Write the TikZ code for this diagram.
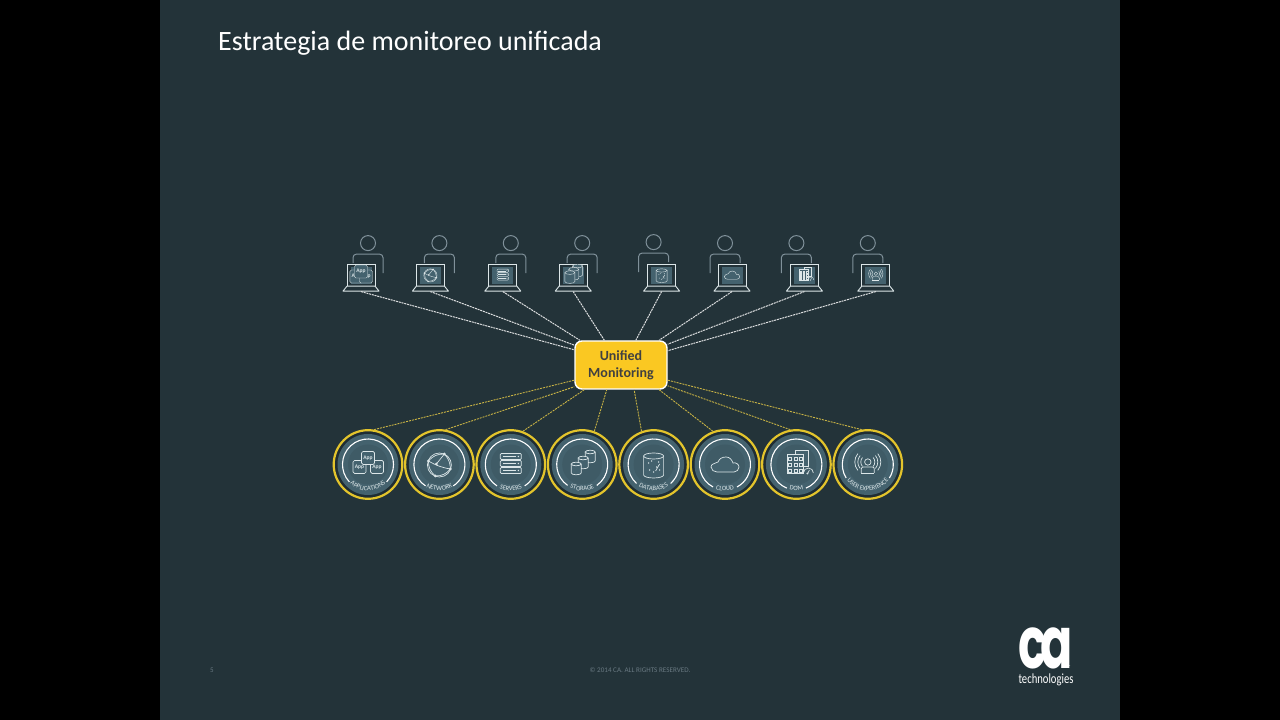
\documentclass[tikz,border=0pt]{standalone}
\usepackage{fontspec}
\setmainfont{Carlito}
\newfontfamily\logofont{Poppins}
\usetikzlibrary{positioning}
\usetikzlibrary{decorations.text}
\definecolor{slidebg}{HTML}{233339}
\definecolor{discbg}{HTML}{44626E}
\definecolor{discin}{HTML}{3F5B66}
\definecolor{ringbg}{HTML}{1F2D33}
\definecolor{hubfill}{HTML}{FAC822}
\definecolor{ringcol}{HTML}{E3C42C}
\definecolor{dashcol}{HTML}{C9B445}
\definecolor{grayline}{HTML}{80919A}
\definecolor{iconcol}{HTML}{DCE6E8}
\tikzset{
  icon/.style ={draw=iconcol, fill=discbg},
  appbox/.pic ={\draw [icon, rounded corners=1.5] (-6.5,-6.5) rectangle (6.5,6.5) ;
    \node [text=iconcol, font=\fontsize{5.5}{6}\selectfont\bfseries, transform shape, inner sep=0] {App} ;},
  appsicon/.pic ={\pic at (-8.5,-2) {appbox} ; \pic at (9,-2) {appbox} ; \pic at (0,7) {appbox} ;},
  neticon/.pic ={\draw [icon] (0,0) circle (12) ;
    \draw [draw=iconcol] (-11,4) to[bend left=25] (5,11) (-11,4) to[bend right=25] (-4,-11)
      (-11,4) to[bend right=10] (11,-4) (5,11) to[bend left=20] (11,-4) (-4,-11) to[bend right=25] (11,-4) (-3,1) -- (5,11) ;
    \foreach \p in {(-11,4),(5,11),(11,-4),(-4,-11),(-3,1)} \fill [iconcol] \p circle (1.5) ;},
  srvicon/.pic ={\foreach \y in {8.5,1.5,-5.5} {
      \draw [icon, rounded corners=1] (-10.5,\y-3) rectangle (10.5,\y+3) ;
      \draw [draw=iconcol] (-8,\y) -- (5,\y) ;
      \fill [iconcol] (7.5,\y) circle (.8) ;}},
  can/.pic ={\draw [icon] (-5,5) -- (-5,-4) arc[start angle=180, end angle=360, x radius=5, y radius=1.8] -- (5,5) ;
    \draw [icon] (0,5) circle [x radius=5, y radius=1.8] ;},
  storicon/.pic ={\pic at (8,8) {can} ; \pic at (1,2) {can} ; \pic at (-6,-4) {can} ;},
  dbicon/.pic ={\draw [icon] (-10,9) -- (-10,-10) arc[start angle=180, end angle=360, x radius=10, y radius=3] -- (10,9) ;
    \draw [icon] (0,9) circle [x radius=10, y radius=3] ;
    \foreach \p in {(-5,2),(-2,4),(5,3),(3,-2),(-4,-5),(0,-7),(6,-5)} \fill [iconcol] \p circle (.8) ;
    \draw [draw=iconcol] (2,-6) -- (6,1) ;},
  cloudicon/.pic ={\draw [icon] (-8,-7) to[out=180,in=270] (-14,-2) to[out=90,in=210] (-7,3)
      to[out=70,in=180] (1,8) to[out=0,in=110] (8,2) to[out=20,in=90] (14,-2) to[out=270,in=0] (9,-7) -- cycle ;},
  domicon/.pic ={\draw [icon] (-1,-1) rectangle (12,15) ;
    \draw [icon] (-9,-8) rectangle (7,11) ;
    \foreach \x in {-6.5,-1,4.5} \foreach \y in {-5.5,0,6}
      \draw [draw=iconcol] (\x-1.5,\y-1.5) rectangle (\x+1.5,\y+1.5) ;
    \draw [draw=iconcol] (7,-8) arc[start angle=180, end angle=0, radius=5] ;
    \draw [draw=iconcol] (11,-9) -- (13,-5) ;
    \fill [iconcol] (11,-8.5) circle (1) ;},
  uxicon/.pic ={\draw [draw=iconcol] (0,3) circle (3.2) ;
    \draw [draw=iconcol, rounded corners=2] (-6.5,-8) |- (6.5,-2) -- (6.5,-8) ;
    \draw [draw=iconcol] (-6.5,-8) -- (6.5,-8) ;
    \foreach \r in {7,10,13} {
      \draw [draw=iconcol] (0,3)+(140:\r) arc[start angle=140, end angle=220, radius=\r] ;
      \draw [draw=iconcol] (0,3)+(40:\r) arc[start angle=40, end angle=-40, radius=\r] ;}},
  shoulders/.pic ={\draw [draw=grayline, line width=1, rounded corners=3.5] (-15,-20) |- (15,-11) -- (15,-30) ;},
  laptop/.pic ={\draw [draw=iconcol, fill=slidebg, line width=.9] (-14,-8) rectangle (14,14) ;
    \fill [discbg] (-10.5,-6) rectangle (10.5,11.5) ;
    \draw [draw=iconcol, fill=slidebg, line width=.9, line join=round] (-14,-8) -- (-18,-13) -- (18,-13) -- (14,-8) -- cycle ;
    \pic [scale=.55, line width=.4] at (0,2.7) {#1} ;},
}
\newcommand{\badge}[4]{
  \begin{scope}[shift={(#1)}]
    \fill [discbg] (0,0) circle (30.5) ;
    \fill [discin] (0,0) circle (20) ;
    \draw [white, line width=1.1] (270-#2:25.5) arc[start angle=270-#2, end angle=-90+#2, radius=25.5] ;
    \path [decorate, decoration={text along path, text color=iconcol, text align=center,
      text={|\fontsize{6.6}{7}\selectfont|#3}}] (190:26.2) arc[start angle=190, end angle=350, radius=26.2] ;
    \pic [line width=.7] at (0,-.5) {#4} ;
  \end{scope}
}

\begin{document}
\begin{tikzpicture}[x=1pt, y=1pt,
      ringnode/.style ={circle, draw=ringcol, line width=2.2, fill=ringbg, minimum size=68.6pt, inner sep=0},
      who/.style ={circle, draw=grayline, line width=1, minimum size=15pt, inner sep=0},
      lap/.style ={minimum width=36pt, minimum height=27pt, inner sep=0, outer sep=0},
      hubnode/.style ={rectangle, draw=white, line width=1.4, fill=hubfill, rounded corners=7, minimum width=92pt,
        minimum height=48pt, align=center, text=black!75, font=\fontsize{14}{17}\selectfont\bfseries},
      wline/.style ={draw=white!85!slidebg, line width=1, dash pattern=on 2pt off .8pt},
      yline/.style ={draw=dashcol, line width=.9, dash pattern=on 2pt off 1pt},
      node distance=.6pt
    ]
    \useasboundingbox (0,0) rectangle (1280,720) ;
    \fill [black] (0,0) rectangle (1280,720) ;
    \fill [slidebg] (160,0) rectangle (1120,720) ;

    \node [anchor=base west, text=white, inner sep=0, font=\fontsize{28}{32}\selectfont] (title) at (218,669.5) {Estrategia de monitoreo unificada} ;
    \node [hubnode] (hub) at (621,355) {Unified\\Monitoring} ;

    % lower row
    \node [ringnode] (apps) at (368,255.5) {} ;
    \node [ringnode, right=of apps] (net) {} ;
    \node [ringnode, right=of net] (srv) {} ;
    \node [ringnode, right=of srv] (stor) {} ;
    \node [ringnode, right=of stor] (db) {} ;
    \node [ringnode, right=of db] (cld) {} ;
    \node [ringnode, right=of cld] (dom) {} ;
    \node [ringnode, right=of dom] (ux) {} ;

    \badge{apps}{47}{APPLICATIONS}{appsicon}
    \badge{net}{33}{NETWORK}{neticon}
    \badge{srv}{33}{SERVERS}{srvicon}
    \badge{stor}{35}{STORAGE}{storicon}
    \badge{db}{42}{DATABASES}{dbicon}
    \badge{cld}{28}{CLOUD}{cloudicon}
    \badge{dom}{22}{DOM}{domicon}
    \badge{ux}{58}{USER EXPERIENCE}{uxicon}

    % upper row
    \node [who, above=178pt of apps] (who1) {} ;
    \node [who, above=178pt of net] (who2) {} ;
    \node [who, above=178pt of srv] (who3) {} ;
    \node [who, above=178pt of stor] (who4) {} ;
    \node [who, above=179pt of db] (who5) {} ;
    \node [who, above=178pt of cld] (who6) {} ;
    \node [who, above=178pt of dom] (who7) {} ;
    \node [who, above=178pt of ux] (who8) {} ;
    \foreach \n in {1,2,3,4} \pic at (who\n) {shoulders} ;
    \foreach \n in {5,6,7,8} \pic [xscale=-1] at (who\n) {shoulders} ;

    \node [lap, below=13.5pt of who1, xshift=-7pt] (lap1) {} ;
    \node [lap, below=13.5pt of who2, xshift=-9pt] (lap2) {} ;
    \node [lap, below=13.5pt of who3, xshift=-8pt] (lap3) {} ;
    \node [lap, below=13.5pt of who4, xshift=-9pt] (lap4) {} ;
    \node [lap, below=14.5pt of who5, xshift=8pt] (lap5) {} ;
    \node [lap, below=13.5pt of who6, xshift=7pt] (lap6) {} ;
    \node [lap, below=13.5pt of who7, xshift=8pt] (lap7) {} ;
    \node [lap, below=13.5pt of who8, xshift=8pt] (lap8) {} ;
    \pic at (lap1) {laptop=appsicon} ;
    \pic at (lap2) {laptop=neticon} ;
    \pic at (lap3) {laptop=srvicon} ;
    \pic at (lap4) {laptop=storicon} ;
    \pic at (lap5) {laptop=dbicon} ;
    \pic at (lap6) {laptop=cloudicon} ;
    \pic at (lap7) {laptop=domicon} ;
    \pic at (lap8) {laptop=uxicon} ;

    \draw [wline] (lap1.south) -- (hub.162) ;
    \draw [wline] (lap2.south) -- (hub.157) ;
    \draw [wline] (lap3.south) -- (hub.149) ;
    \draw [wline] (lap4.south) -- (hub.124) ;
    \draw [wline] (lap5.south) -- (hub.59) ;
    \draw [wline] (lap6.south) -- (hub.33) ;
    \draw [wline] (lap7.south) -- (hub.24) ;
    \draw [wline] (lap8.south) -- (hub.17) ;

    \draw [yline] (apps.80) -- (hub.198) ;
    \draw [yline] (net.80) -- (hub.205) ;
    \draw [yline] (srv.70) -- (hub.214) ;
    \draw [yline] (stor.70) -- (hub.240) ;
    \draw [yline] (db.110) -- (hub.298) ;
    \draw [yline] (cld.110) -- (hub.327) ;
    \draw [yline] (dom.100) -- (hub.336) ;
    \draw [yline] (ux.100) -- (hub.342) ;

    % footer
    \node [text=grayline!75!slidebg, font=\fontsize{7}{8}\selectfont, inner sep=0] (page) at (212,50) {5} ;
    \node [text=grayline!75!slidebg, font=\fontsize{7.1}{8}\selectfont, inner sep=0] (copy) at (640,50) {© 2014 CA. ALL RIGHTS RESERVED.} ;
    \node [text=white, inner sep=0, anchor=base west, text depth=0pt, text height=40pt, xscale=.66, transform shape, font=\logofont\fontsize{72}{72}\selectfont\bfseries] (logo) at (1018,51) {c\kern-9pt a} ;
    \node [text=white, inner sep=0, anchor=base west, font=\fontsize{6}{6}\selectfont] (mark) at (1069,53) {.} ;
    \node [text=white, inner sep=0, xscale=.76, transform shape, font=\fontsize{14}{14}\selectfont] (tech) at (1046,40) {technologies} ;
  \end{tikzpicture}
\end{document}
